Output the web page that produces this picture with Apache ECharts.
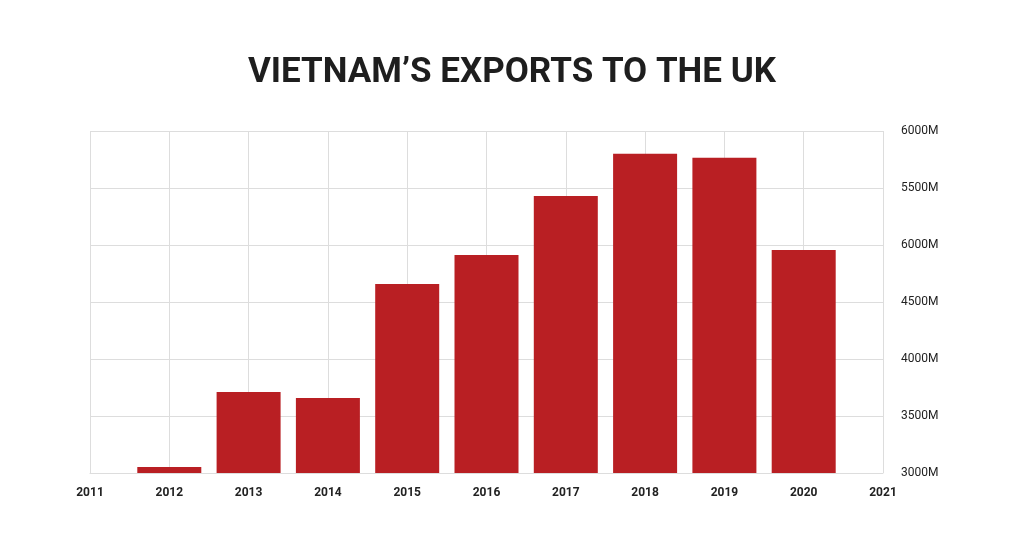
<!DOCTYPE html>
<html><head><meta charset="utf-8">
<script src="https://cdn.jsdelivr.net/npm/echarts@6/dist/echarts.min.js"></script>
<style>html,body{margin:0;padding:0;background:#fff}#c{width:1024px;height:548px}</style>
</head><body><div id="c"></div>
<script>
const years = [2012, 2013, 2014, 2015, 2016, 2017, 2018, 2019, 2020];
const exportsM = [3053, 3710, 3658, 4658, 4912, 5430, 5800, 5765, 4956];
const yTickValues = [3000, 3500, 4000, 4500, 5000, 5500, 6000];
const yTickLabels = ['3000M', '3500M', '4000M', '4500M', '6000M', '5500M', '6000M'];

const chart = echarts.init(document.getElementById('c'));
chart.setOption({
  animation: false,
  title: {
    text: 'VIETNAM’S EXPORTS TO THE UK', left: 'center', top: 51,
    textStyle: {fontFamily: 'Roboto', fontWeight: 'bold', fontSize: 35, color: '#1e1e1e'}
  },
  grid: {left: 90, right: 141, top: 131, bottom: 75},
  xAxis: {
    type: 'value', min: 2011, max: 2021, interval: 1,
    axisLine: {show: true, lineStyle: {color: '#ddd'}}, axisTick: {show: false},
    splitLine: {show: true, lineStyle: {color: '#ddd'}},
    axisLabel: {formatter: v => String(v), fontFamily: 'Roboto', fontWeight: 'bold', fontSize: 12, color: '#222', margin: 14}
  },
  yAxis: {
    type: 'value', position: 'right', min: 3000, max: 6000, interval: 500,
    axisLine: {show: false}, axisTick: {show: false},
    splitLine: {show: true, lineStyle: {color: '#ddd'}},
    axisLabel: {formatter: v => yTickLabels[yTickValues.indexOf(v)], fontFamily: 'Roboto', fontSize: 12, color: '#222', margin: 18}
  },
  series: [{
    type: 'bar', barWidth: 64,
    itemStyle: {color: '#b91f23'},
    data: years.map((y, i) => [y, exportsM[i]])
  }]
});
</script></body></html>
